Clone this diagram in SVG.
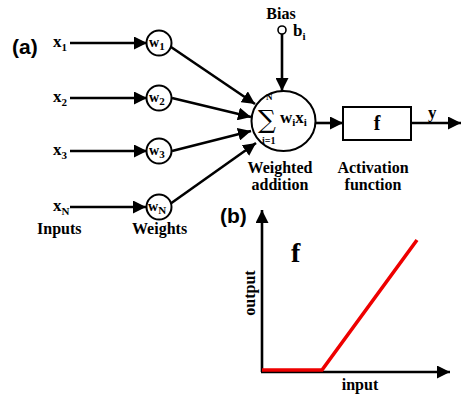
<svg xmlns="http://www.w3.org/2000/svg" width="474" height="405" viewBox="0 0 474 405">
<defs>
<marker id="ah" viewBox="0 0 10 10" refX="10" refY="5" markerWidth="5" markerHeight="5" markerUnits="strokeWidth" orient="auto">
<path d="M0,0 L10,5 L0,10 z" fill="#000"/>
</marker>
<marker id="ah2" viewBox="0 0 10 10" refX="10" refY="5" markerWidth="5.5" markerHeight="5" markerUnits="strokeWidth" orient="auto">
<path d="M0,0 L10,5 L0,10 z" fill="#000"/>
</marker>
</defs>
<style>
text{font-family:"Liberation Serif",serif;font-weight:bold;fill:#000}
.lab{font-size:16px}
.var{font-size:17px}
.sub{font-size:11px}
.w{font-size:14px}
.wx{font-size:17px}
.panel{font-family:"Liberation Sans",sans-serif;font-size:21px}
.node{fill:#fff;stroke:#000;stroke-width:2}
.c{fill:none;stroke:#000;stroke-width:2.6}
.ax{fill:none;stroke:#000;stroke-width:2.6}
</style>
<rect width="474" height="405" fill="#fff"/>
<text class="panel" x="12" y="54">(a)</text>
<text class="panel" x="220" y="223">(b)</text>

<g id="connectors">
<line class="c" x1="70" y1="43" x2="147" y2="43" marker-end="url(#ah)"/>
<line class="c" x1="70" y1="98" x2="147" y2="98" marker-end="url(#ah)"/>
<line class="c" x1="70" y1="151" x2="147" y2="151" marker-end="url(#ah)"/>
<line class="c" x1="70" y1="207" x2="146" y2="207" marker-end="url(#ah)"/>
<line class="c" x1="171" y1="47" x2="255" y2="104" marker-end="url(#ah)"/>
<line class="c" x1="172" y1="98" x2="251" y2="117" marker-end="url(#ah)"/>
<line class="c" x1="172" y1="151" x2="251" y2="131" marker-end="url(#ah)"/>
<line class="c" x1="170" y1="204" x2="256" y2="143" marker-end="url(#ah)"/>
<line class="c" x1="282" y1="34" x2="282" y2="91" marker-end="url(#ah2)"/>
<line class="c" x1="316" y1="123" x2="343" y2="123" marker-end="url(#ah)"/>
<line class="c" x1="411" y1="123" x2="461" y2="123" marker-end="url(#ah)"/>
</g>

<g id="x1"><text class="var" x="53" y="47">x<tspan class="sub" dy="4">1</tspan></text></g>
<g id="x2"><text class="var" x="53" y="102">x<tspan class="sub" dy="4">2</tspan></text></g>
<g id="x3"><text class="var" x="53" y="155">x<tspan class="sub" dy="4">3</tspan></text></g>
<g id="xN"><text class="var" x="53" y="211">x<tspan class="sub" dy="4">N</tspan></text></g>
<g id="inputs-label"><text class="lab" x="37" y="234">Inputs</text></g>

<g id="w1"><circle class="node" cx="159" cy="43" r="12.5"/><text class="w" x="149" y="47">w<tspan class="sub" dy="3">1</tspan></text></g>
<g id="w2"><circle class="node" cx="159" cy="98" r="12.5"/><text class="w" x="149" y="102">w<tspan class="sub" dy="3">2</tspan></text></g>
<g id="w3"><circle class="node" cx="159" cy="151" r="12.5"/><text class="w" x="149" y="155">w<tspan class="sub" dy="3">3</tspan></text></g>
<g id="wN"><circle class="node" cx="159" cy="207" r="12.5"/><text class="w" x="148" y="211">w<tspan class="sub" dy="3">N</tspan></text></g>
<g id="weights-label"><text class="lab" x="132" y="234">Weights</text></g>

<g id="bias"><circle cx="282" cy="30" r="4" fill="#fff" stroke="#000" stroke-width="1.6"/>
<text class="lab" x="281" y="19" text-anchor="middle">Bias</text>
<text class="var" x="293" y="36">b<tspan class="sub" dy="4">i</tspan></text></g>

<g id="sum"><ellipse class="node" cx="283.5" cy="121" rx="32" ry="30"/>
<text x="258" y="128" style="font-size:25px;font-weight:normal;font-family:'DejaVu Serif',serif">∑</text>
<text x="266" y="100" style="font-size:9px">N</text>
<text x="262" y="144" style="font-size:10px">i=1</text>
<text class="wx" x="280" y="123">w<tspan class="sub" dy="3">i</tspan><tspan dy="-3">x</tspan><tspan class="sub" dy="3">i</tspan></text>
<text class="lab" x="280" y="173" text-anchor="middle">Weighted</text>
<text class="lab" x="280" y="190" text-anchor="middle">addition</text></g>

<g id="activation"><rect class="node" x="343" y="107" width="68" height="33"/>
<text x="377" y="130" text-anchor="middle" style="font-size:20px">f</text>
<text class="lab" x="373" y="173" text-anchor="middle">Activation</text>
<text class="lab" x="373" y="190" text-anchor="middle">function</text></g>
<g id="y"><text class="var" x="428" y="118">y</text></g>

<g id="plot">
<line class="ax" x1="262" y1="372" x2="262" y2="210" marker-end="url(#ah)"/>
<line class="ax" x1="261" y1="372" x2="450" y2="372" marker-end="url(#ah)"/>
<polyline points="262,370 322,370 417,240" fill="none" stroke="#e00" stroke-width="3.6"/>
<text x="291" y="262" style="font-size:28px">f</text>
<text class="lab" transform="translate(255,293) rotate(-90)" text-anchor="middle">output</text>
<text class="lab" x="360" y="390" text-anchor="middle">input</text>
</g>
</svg>
